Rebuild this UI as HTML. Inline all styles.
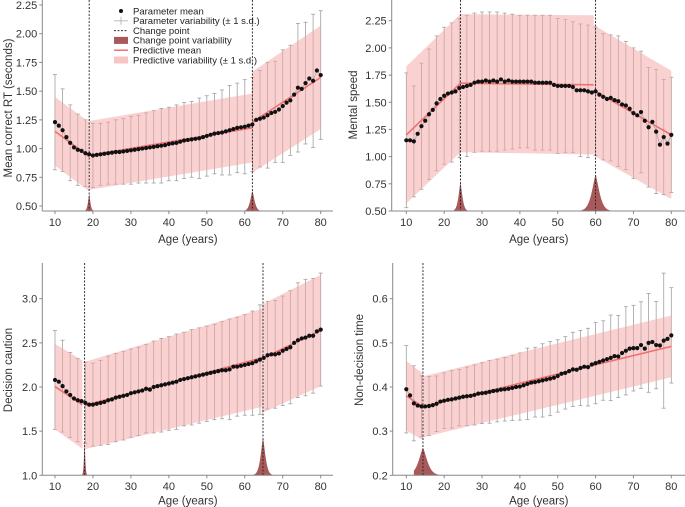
<!DOCTYPE html>
<html><head><meta charset="utf-8"><style>
body{margin:0;background:#fff;}
svg{display:block;font-family:"Liberation Sans",sans-serif;}
</style></head><body>
<svg id="fig" width="685" height="507" viewBox="0 0 685 507"></svg>
<script>
const ages = [];
for (let a = 10; a <= 80; a++) ages.push(a);
const errAges = [];
for (let a = 10; a <= 80; a += 2) errAges.push(a);

// Panel A: mean correct RT
const rtMean = [1.23,1.20,1.16,1.10,1.05,1.01,0.99,0.98,0.96,0.95,0.94,0.945,0.95,0.955,0.96,0.965,0.97,0.97,0.975,0.98,0.985,0.99,0.995,1.0,1.005,1.01,1.015,1.02,1.025,1.03,1.04,1.045,1.05,1.06,1.07,1.075,1.08,1.085,1.09,1.10,1.11,1.12,1.13,1.135,1.14,1.15,1.16,1.17,1.18,1.185,1.19,1.20,1.21,1.25,1.26,1.27,1.29,1.31,1.32,1.34,1.37,1.40,1.42,1.47,1.53,1.52,1.57,1.61,1.59,1.68,1.64];
const rtErrUpper = [1.645,1.52,1.38,1.30,1.25,1.22,1.22,1.23,1.25,1.26,1.28,1.29,1.31,1.33,1.35,1.36,1.38,1.40,1.41,1.44,1.46,1.48,1.51,1.55,1.57,1.60,1.62,1.68,1.75,1.76,1.86,1.90,2.09,2.10,2.17,2.20];
const rtChange = [19, 62];
const rtBand = [[10,1.15,0.30],[19,0.93,0.30],[19,0.94,0.30],[62,1.18,0.30],[62,1.23,0.44],[80,1.62,0.45]];
const rtCpSd = [0.5, 0.9];
const rtCpPeak = [0.60, 0.63];
const rtTicks = [0.50,0.75,1.00,1.25,1.50,1.75,2.00,2.25];

// Panel B: mental speed
const msMean = [1.15,1.15,1.14,1.21,1.28,1.33,1.39,1.43,1.49,1.53,1.56,1.58,1.59,1.60,1.63,1.64,1.65,1.66,1.68,1.69,1.69,1.70,1.69,1.70,1.69,1.71,1.69,1.70,1.69,1.69,1.69,1.69,1.69,1.69,1.68,1.68,1.68,1.68,1.68,1.66,1.65,1.65,1.65,1.65,1.64,1.61,1.61,1.61,1.60,1.59,1.60,1.57,1.55,1.53,1.54,1.52,1.51,1.48,1.47,1.44,1.40,1.38,1.41,1.33,1.27,1.32,1.23,1.11,1.18,1.12,1.20];
const msErrUpper = [1.77,1.65,1.86,1.99,2.11,2.19,2.23,2.27,2.30,2.32,2.33,2.33,2.33,2.32,2.31,2.30,2.30,2.30,2.30,2.30,2.27,2.26,2.24,2.22,2.21,2.19,2.13,2.12,2.11,2.06,2.00,1.97,1.82,1.80,1.71,1.73];
const msChange = [24.3, 60];
const msBand = [[10,1.20,0.63],[24.3,1.675,0.635],[24.3,1.675,0.635],[59.5,1.66,0.64],[59.5,1.61,0.60],[80,1.20,0.59]];
const msCpSd = [0.8, 1.6];
const msCpPeak = [0.76, 0.83];
const msTicks = [0.50,0.75,1.00,1.25,1.50,1.75,2.00,2.25];

// Panel C: decision caution
const dcMean = [2.08,2.06,2.01,1.95,1.91,1.87,1.85,1.84,1.82,1.80,1.80,1.81,1.82,1.83,1.85,1.86,1.88,1.89,1.90,1.91,1.93,1.94,1.95,1.96,1.98,1.97,2.00,2.01,2.02,2.03,2.04,2.05,2.06,2.08,2.09,2.10,2.11,2.12,2.13,2.14,2.15,2.16,2.17,2.18,2.19,2.19,2.20,2.23,2.23,2.24,2.25,2.26,2.27,2.29,2.31,2.33,2.36,2.37,2.37,2.38,2.41,2.43,2.45,2.50,2.53,2.55,2.56,2.58,2.58,2.63,2.65];
const dcErrUpper = [2.64,2.53,2.39,2.32,2.28,2.27,2.30,2.35,2.38,2.40,2.43,2.45,2.48,2.52,2.55,2.57,2.60,2.62,2.65,2.67,2.69,2.71,2.74,2.77,2.79,2.82,2.86,2.93,2.97,2.98,3.03,3.09,3.18,3.22,3.23,3.29];
const dcChange = [17.8, 64.8];
const dcBand = [[10,2.005,0.485],[17.2,1.80,0.50],[17.8,1.79,0.495],[64.5,2.33,0.555],[64.5,2.32,0.615],[80,2.64,0.63]];
const dcCpSd = [0.28, 1.0];
const dcCpPeak = [1.37, 1.42];
const dcTicks = [1.0,1.5,2.0,2.5,3.0];

// Panel D: non-decision time
const ndMean = [0.395,0.381,0.363,0.358,0.356,0.356,0.357,0.359,0.362,0.367,0.369,0.371,0.372,0.374,0.376,0.378,0.379,0.380,0.382,0.385,0.386,0.387,0.389,0.391,0.392,0.394,0.395,0.396,0.398,0.400,0.401,0.404,0.407,0.410,0.411,0.413,0.415,0.417,0.419,0.421,0.425,0.430,0.432,0.436,0.440,0.439,0.443,0.446,0.445,0.451,0.454,0.457,0.460,0.463,0.466,0.470,0.469,0.477,0.482,0.487,0.488,0.488,0.495,0.487,0.500,0.502,0.495,0.494,0.505,0.509,0.517];
const ndErrUpper = [0.494,0.448,0.425,0.424,0.425,0.432,0.437,0.440,0.445,0.450,0.455,0.460,0.463,0.467,0.472,0.477,0.488,0.490,0.498,0.503,0.507,0.514,0.524,0.528,0.533,0.546,0.550,0.563,0.562,0.582,0.585,0.593,0.612,0.594,0.658,0.625];
const ndChange = [14.4];
const ndBand = [[10,0.38,0.079],[14.4,0.355,0.075],[14.4,0.355,0.069],[80,0.492,0.07]];
const ndCpSd = [1.8];
const ndCpPeak = [0.262];
const ndTicks = [0.2,0.3,0.4,0.5,0.6];

const NS = 'http://www.w3.org/2000/svg';
const svg = document.getElementById('fig');
function mk(tag, attrs, parent) {
  const e = document.createElementNS(NS, tag);
  for (const k in attrs) e.setAttribute(k, attrs[k]);
  (parent || svg).appendChild(e);
  return e;
}

function panel(cfg) {
  const g = mk('g', {});
  
  
  const X = a => cfg.x10 + (a - 10) * (cfg.x80 - cfg.x10) / 70;
  const Y = v => cfg.yA + (v - cfg.vA) * (cfg.yB - cfg.yA) / (cfg.vB - cfg.vA);
  // error bars (under band)
  errAges.forEach((a, i) => {
    const m = cfg.mean[a - 10];
    const sd = cfg.errUp[i] - m;
    const x = X(a);
    const eb = mk('g', {stroke: '#a0a0a0', 'stroke-width': '0.8'}, g);
    
    
    mk('line', {x1: x, x2: x, y1: Y(m + sd), y2: Y(m - sd)}, eb);
    mk('line', {x1: x - 2, x2: x + 2, y1: Y(m + sd), y2: Y(m + sd)}, eb);
    mk('line', {x1: x - 2, x2: x + 2, y1: Y(m - sd), y2: Y(m - sd)}, eb);
  });
  // band
  for (let i = 0; i < cfg.band.length - 1; i += 2) {
    const [a0, m0, h0] = cfg.band[i], [a1, m1, h1] = cfg.band[i + 1];
    const p = mk('polygon', {points: `${X(a0)},${Y(m0+h0)} ${X(a1)},${Y(m1+h1)} ${X(a1)},${Y(m1-h1)} ${X(a0)},${Y(m0-h0)}`, fill: '#f3a3a3', 'fill-opacity': '0.5'}, g);
    
    
  }
  // predictive mean
  for (let i = 0; i < cfg.band.length - 1; i += 2) {
    const [a0, m0] = cfg.band[i], [a1, m1] = cfg.band[i + 1];
    const l = mk('line', {x1: X(a0), y1: Y(m0), x2: X(a1), y2: Y(m1), stroke: '#f07070', 'stroke-width': '1.6'}, g);
    
    
  }
  // change point distributions
  cfg.change.forEach((c, i) => {
    const pts = [];
    const s = cfg.cpSd[i];
    const lo = cfg.cpMin !== undefined ? Math.max(cfg.cpMin, c - 3 * s) : c - 3 * s;
    const hi = c + 3 * s;
    pts.push(`${X(lo)},${Y(cfg.vBot)}`);
    for (let a = lo; a <= hi; a += 0.05) {
      const d = Math.exp(-Math.pow(Math.abs(a - c) / s, 1.4) * 1.2);
      pts.push(`${X(a)},${Y(cfg.vBot + (cfg.cpPeak[i] - cfg.vBot) * d)}`);
    }
    pts.push(`${X(hi)},${Y(cfg.vBot)}`);
    const p = mk('polygon', {points: pts.join(' '), fill: '#a8595a'}, g);
    
    
    const l = mk('line', {x1: X(c), x2: X(c), y1: cfg.top, y2: Y(cfg.vBot), stroke: '#222', 'stroke-width': '0.9', 'stroke-dasharray': '2,1.5'}, g);
    
    
  });
  // mean points
  const path = cfg.mean.map((v, i) => `${i ? 'L' : 'M'}${X(ages[i])},${Y(v)}`).join('');
  mk('path', {d: path, fill: 'none', stroke: '#999', 'stroke-width': '0.6'}, g);
  cfg.mean.forEach((v, i) => {
    const c = mk('circle', {cx: X(ages[i]), cy: Y(v), r: 2.1, fill: '#111'}, g);
    
    
  });
  // axes
  const ax = mk('g', {stroke: '#888', 'stroke-width': '1'}, g);
  
  
  mk('line', {x1: cfg.axX, x2: cfg.axX, y1: cfg.top, y2: Y(cfg.vBot)}, ax);
  mk('line', {x1: cfg.axX, x2: cfg.axR, y1: Y(cfg.vBot), y2: Y(cfg.vBot)}, ax);
  cfg.ticks.forEach(t => {
    mk('line', {x1: cfg.axX - 3, x2: cfg.axX, y1: Y(t), y2: Y(t)}, ax);
    const tx = mk('text', {x: cfg.axX - 5, y: Y(t) + 4, 'text-anchor': 'end', 'font-size': '11', fill: '#333'}, g);
    tx.textContent = cfg.fmt(t);
    
    
  });
  for (let a = 10; a <= 80; a += 10) {
    mk('line', {x1: X(a), x2: X(a), y1: Y(cfg.vBot), y2: Y(cfg.vBot) + 3}, ax);
    const tx = mk('text', {x: X(a), y: Y(cfg.vBot) + cfg.tickOff, 'text-anchor': 'middle', 'font-size': '11', fill: '#333'}, g);
    tx.textContent = a;
    
    
  }
  const xt = mk('text', {x: (cfg.x10 + cfg.x80) / 2, y: Y(cfg.vBot) + cfg.titleOff, 'text-anchor': 'middle', 'font-size': '11.5', fill: '#333'}, g);
  xt.textContent = 'Age (years)';
  
  
  const yt = mk('text', {x: 0, y: 0, 'text-anchor': 'middle', 'font-size': '11.5', fill: '#333', transform: `translate(${cfg.ytX},${cfg.ytY}) rotate(-90)`}, g);
  yt.textContent = cfg.ytitle;
  
  
}

const f2 = t => t.toFixed(2), f1 = t => t.toFixed(1);
panel({name:'panel-mean-rt', x10:55, x80:320.7, yA:5, vA:2.25, yB:206, vB:0.50, vBot:0.456, top:0, axX:42.3, axR:333, tickOff:15, titleOff:32,
  mean:rtMean, errUp:rtErrUpper, change:rtChange, band:rtBand, cpSd:rtCpSd, cpPeak:rtCpPeak, ticks:rtTicks, fmt:f2,
  ytitle:'Mean correct RT (seconds)', ytX:12, ytY:108});
panel({name:'panel-mental-speed', x10:406.3, x80:671.3, yA:20.7, vA:2.25, yB:211, vB:0.50, vBot:0.50, top:0, axX:391.7, axR:685, tickOff:15, titleOff:32,
  mean:msMean, errUp:msErrUpper, change:msChange, band:msBand, cpSd:msCpSd, cpPeak:msCpPeak, ticks:msTicks, fmt:f2,
  ytitle:'Mental speed', ytX:357, ytY:105});
panel({name:'panel-decision-caution', x10:55, x80:320.7, yA:298.7, vA:3.0, yB:475.3, vB:1.0, vBot:1.0, top:263, axX:42.3, axR:333, tickOff:14.5, titleOff:29,
  mean:dcMean, errUp:dcErrUpper, change:dcChange, band:dcBand, cpSd:dcCpSd, cpPeak:dcCpPeak, ticks:dcTicks, fmt:f1,
  ytitle:'Decision caution', ytX:12, ytY:370});
panel({name:'panel-non-decision-time', x10:406.3, x80:671.3, yA:298.7, vA:0.6, yB:475.3, vB:0.2, vBot:0.2, top:263, axX:392.7, axR:685, tickOff:14.5, titleOff:29,
  mean:ndMean, errUp:ndErrUpper, change:ndChange, band:ndBand, cpSd:ndCpSd, cpPeak:ndCpPeak, cpMin:12, ticks:ndTicks, fmt:f1,
  ytitle:'Non-decision time', ytX:363, ytY:360});

// legend
const lg = mk('g', {'font-size': '9.5', fill: '#222'});


const rows = ['Parameter mean','Parameter variability (\u00b1 1 s.d.)','Change point','Change point variability','Predictive mean','Predictive variability (\u00b1 1 s.d.)'];
rows.forEach((r, i) => {
  const y = 11 + i * 9.8;
  const e = mk('g', {}, lg);
  
  
  if (i === 0) mk('circle', {cx: 121, cy: y, r: 2, fill: '#111'}, e);
  if (i === 1) { mk('line', {x1: 114, x2: 128, y1: y, y2: y, stroke: '#bbb'}, e); mk('line', {x1: 121, x2: 121, y1: y - 4, y2: y + 4, stroke: '#bbb'}, e); }
  if (i === 2) mk('line', {x1: 114, x2: 128, y1: y, y2: y, stroke: '#333', 'stroke-dasharray': '2,1.5'}, e);
  if (i === 3) mk('rect', {x: 114, y: y - 3.5, width: 14, height: 7, fill: '#a8595a'}, e);
  if (i === 4) mk('line', {x1: 114, x2: 128, y1: y, y2: y, stroke: '#f07070', 'stroke-width': '1.5'}, e);
  if (i === 5) mk('rect', {x: 114, y: y - 3.5, width: 14, height: 7, fill: '#f7c5c5'}, e);
  const t = mk('text', {x: 133, y: y + 3.3}, e);
  t.textContent = r;
});
</script>
</body></html>
